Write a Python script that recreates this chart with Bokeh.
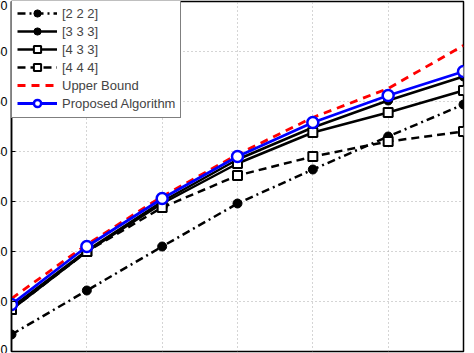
from bokeh.plotting import figure
from bokeh.models import Range1d, FixedTicker
from bokeh.embed import file_html
from bokeh.resources import INLINE

snr = [0, 5, 10, 15, 20, 25, 30]
y_ticks = [0, 10, 20, 30, 40, 50, 60, 70]
x_ticks = [0, 5, 10, 15, 20, 25, 30]

s222 = [3.4, 12.2, 21.0, 29.6, 36.4, 43.0, 49.4]
s333 = [8.8, 20.2, 30.0, 38.4, 44.8, 50.2, 55.0]
s433 = [8.4, 20.0, 29.6, 37.6, 43.8, 47.8, 52.2]
s444 = [8.4, 20.0, 28.8, 35.2, 39.0, 42.0, 44.0]
upper = [10.6, 21.4, 31.0, 39.4, 46.8, 52.6, 61.2]
proposed = [9.4, 21.0, 30.6, 39.0, 45.8, 51.2, 56.0]

SHIFT = 19
p = figure(width=474 + SHIFT, height=353, output_backend="svg", toolbar_location=None,
           x_range=Range1d(0, 30), y_range=Range1d(0, 70),
           min_border_left=11 + SHIFT, min_border_right=11, min_border_top=1,
           min_border_bottom=2)
p.styles = {"margin-left": f"-{SHIFT}px"}
p.background_fill_color = "white"
p.border_fill_color = "white"
p.outline_line_color = "black"
p.outline_line_width = 1.5

FONT = "Liberation Sans"

p.xaxis.visible = False
p.yaxis.ticker = FixedTicker(ticks=y_ticks)
for ax in p.yaxis:
    ax.major_label_text_font = FONT
    ax.major_label_text_font_size = "12.5px"
    ax.major_label_text_color = "black"
    ax.major_label_standoff = 4
    ax.major_tick_in = 4
    ax.major_tick_out = 0
    ax.minor_tick_line_color = None
    ax.axis_line_color = "black"
    ax.axis_line_width = 1.5

p.xgrid.grid_line_color = "#aaaaaa"
p.xgrid.grid_line_dash = "1 3"
p.ygrid.grid_line_color = "#aaaaaa"
p.ygrid.grid_line_dash = "1 3"
p.xgrid.ticker = FixedTicker(ticks=x_ticks)
p.ygrid.ticker = FixedTicker(ticks=y_ticks)

p.line(snr, s222, line_color="black", line_width=2.5, line_dash="8 4 2 4", legend_label="[2 2 2]")
p.scatter(snr, s222, marker="circle", size=9, fill_color="black", line_color="black", legend_label="[2 2 2]")

p.line(snr, s333, line_color="black", line_width=2.5, legend_label="[3 3 3]")
p.scatter(snr, s333, marker="circle", size=9, fill_color="black", line_color="black", legend_label="[3 3 3]")

p.line(snr, s433, line_color="black", line_width=2.5, legend_label="[4 3 3]")
p.scatter(snr, s433, marker="square", size=9, fill_color="white", line_color="black", line_width=2, legend_label="[4 3 3]")

p.line(snr, s444, line_color="black", line_width=2.5, line_dash="8 5", legend_label="[4 4 4]")
p.scatter(snr, s444, marker="square", size=9, fill_color="white", line_color="black", line_width=2, legend_label="[4 4 4]")

p.line(snr, upper, line_color="#ff0000", line_width=2.8, line_dash="8 6", legend_label="Upper Bound")

p.line(snr, proposed, line_color="#0000ff", line_width=2.8, legend_label="Proposed Algorithm")
p.scatter(snr, proposed, marker="circle", size=11, fill_color="white", line_color="#0000ff", line_width=2.5, legend_label="Proposed Algorithm")

lg = p.legend[0]
lg.location = (0, 233)
lg.margin = 0
lg.padding = 5
lg.spacing = 0
lg.label_height = 18
lg.glyph_height = 18
lg.glyph_width = 40
lg.label_standoff = 5
lg.label_text_font = FONT
lg.label_text_font_size = "13px"
lg.border_line_color = "black"
lg.border_line_width = 1
lg.background_fill_color = "white"
lg.background_fill_alpha = 1

open("out.html", "w").write(file_html(p, INLINE))
